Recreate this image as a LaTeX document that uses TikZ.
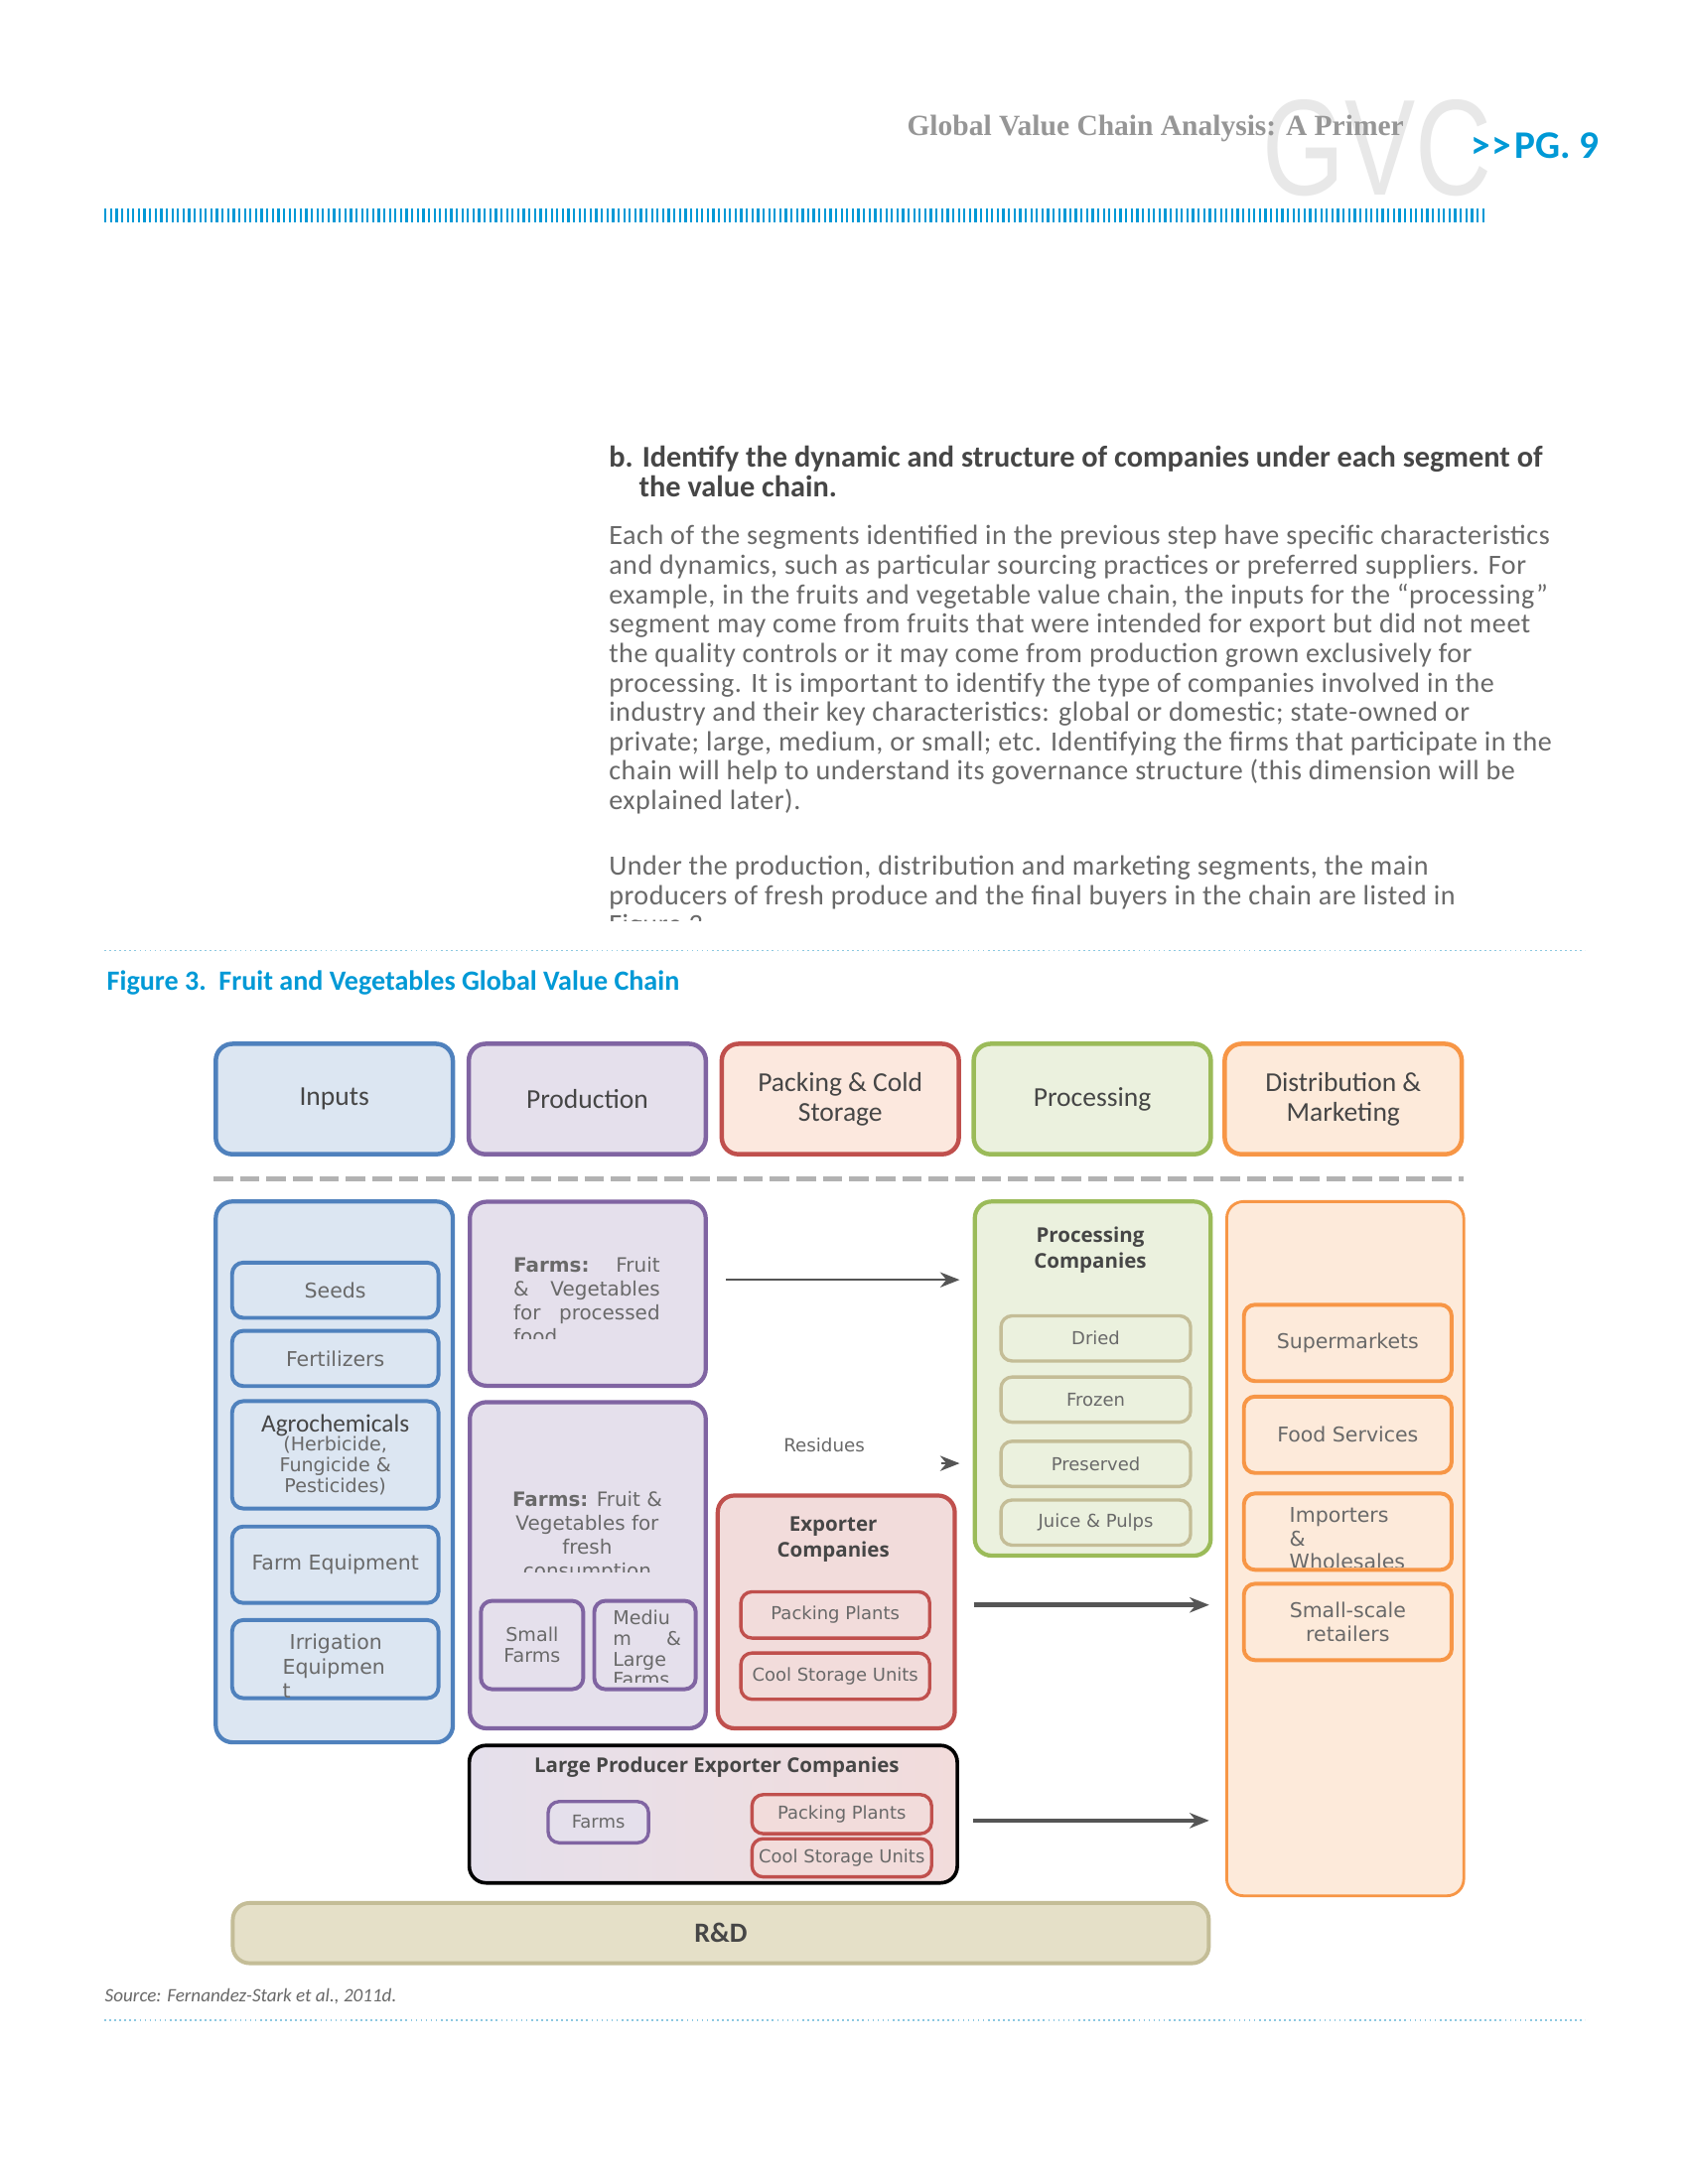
\documentclass[tikz,border=0pt]{standalone}
\usepackage{fontspec}
\usepackage{graphicx}
\setmainfont{Carlito}
\newfontfamily\labelfont{DejaVu Sans}
\newfontfamily\titlefont{Open Sans}
\newfontfamily\headserif{Liberation Serif}
\newfontfamily\gvcfont{Liberation Sans}
\usetikzlibrary{arrows.meta}

\definecolor{inBlue}{RGB}{79,129,189}
\definecolor{inBlueFill}{RGB}{220,230,242}
\definecolor{prPurple}{RGB}{128,100,162}
\definecolor{prPurpleFill}{RGB}{229,224,236}
\definecolor{pkRed}{RGB}{192,80,77}
\definecolor{pkRedFill}{RGB}{242,220,219}
\definecolor{pkPeach}{RGB}{252,232,222}
\definecolor{psGreen}{RGB}{155,187,89}
\definecolor{psGreenFill}{RGB}{235,241,222}
\definecolor{dmOrange}{RGB}{247,150,70}
\definecolor{dmOrangeFill}{RGB}{253,234,218}
\definecolor{oliveLine}{RGB}{196,189,151}
\definecolor{rdFill}{RGB}{229,224,200}
\definecolor{textGray}{RGB}{105,105,105}
\definecolor{darkText}{RGB}{70,70,70}
\definecolor{headGray}{RGB}{150,150,150}
\definecolor{gvcGray}{RGB}{232,232,232}
\definecolor{gvcBlue}{RGB}{0,153,214}
\definecolor{dotBlue}{RGB}{140,200,225}
\definecolor{arrowGray}{RGB}{85,85,85}

\tikzset{
  headbox/.style={draw, rounded corners=6pt, line width=1.6pt, minimum width=85pt, minimum height=39.6pt, align=center, text=darkText, font=\fontsize{9.8}{10.5}\selectfont},
  colbox/.style={draw, rounded corners=6pt, line width=1.5pt},
  itembox/.style={draw, rounded corners=4pt, line width=1.4pt, inner sep=2pt, align=center, text=textGray, font=\labelfont\fontsize{7.3}{8.3}\selectfont},
  smallitem/.style={itembox, line width=1.2pt, font=\labelfont\fontsize{6.4}{7.5}\selectfont},
  labeltext/.style={text=textGray, inner sep=0pt, font=\labelfont\fontsize{7.3}{8.5}\selectfont},
  boldtitle/.style={align=center, inner sep=0pt, text=darkText, font=\titlefont\bfseries\fontsize{7.3}{9.2}\selectfont},
  bodytext/.style={text=textGray, inner sep=0pt, font=\fontsize{10}{11}\selectfont\addfontfeatures{LetterSpace=2}},
  sepline/.style={dotBlue, line width=0.6pt, dash pattern=on 0.6pt off 1.2pt},
  flowarrow/.style={draw=arrowGray, line width=1.6pt, line cap=butt, -{Stealth[length=7pt,width=5.5pt]}},
  thinarrow/.style={draw=arrowGray, line width=0.5pt, -{Stealth[length=7pt,width=5.5pt]}},
}

\begin{document}
\begin{tikzpicture}[x=0.36pt, y=-0.36pt, line join=round]
\fill[white] (0,0) rectangle (1681.5,2176);
\useasboundingbox (0,0) rectangle (1681.5,2176);

% page header
\node[font=\gvcfont\fontsize{49}{49}\selectfont, text=gvcGray, anchor=base west, inner sep=0pt] (gvc) at (1257,194) {\scalebox{0.775}[1]{GVC}};
\node[font=\headserif\bfseries\fontsize{10.5}{12}\selectfont, text=headGray, anchor=base west, inner sep=0pt] (primer) at (903,135) {Global Value Chain Analysis: A Primer};
\node[font=\bfseries\fontsize{14}{16}\selectfont, text=gvcBlue, anchor=base west, inner sep=0pt] (pgno) at (1465,158) {\textgreater\kern0.6pt\textgreater\kern1pt PG. 9};
\draw[gvcBlue, line width=5pt, dash pattern=on 0.8pt off 1.2pt] (104,215) -- (1480,215);

% section text
\node[bodytext, font=\bfseries\fontsize{10.8}{12}\selectfont, text=darkText, anchor=base west] (headA) at (606,465) {b. Identify the dynamic and structure of companies under each segment of};
\node[bodytext, font=\bfseries\fontsize{10.8}{12}\selectfont, text=darkText, anchor=base west] (headB) at (636,495) {the value chain.};
\foreach \txt [count=\i from 0] in {{Each of the segments identified in the previous step have specific characteristics},
  {and dynamics, such as particular sourcing practices or preferred suppliers. For},
  {example, in the fruits and vegetable value chain, the inputs for the “processing”},
  {segment may come from fruits that were intended for export but did not meet},
  {the quality controls or it may come from production grown exclusively for},
  {processing. It is important to identify the type of companies involved in the},
  {industry and their key characteristics: global or domestic; state-owned or},
  {private; large, medium, or small; etc. Identifying the firms that participate in the},
  {chain will help to understand its governance structure (this dimension will be},
  {explained later).}}
  \node[bodytext, anchor=base west] (bodyA\i) at (606,{543+29.3*\i}) {\txt};
\foreach \txt [count=\i from 0] in {{Under the production, distribution and marketing segments, the main},
  {producers of fresh produce and the final buyers in the chain are listed in}}
  \node[bodytext, anchor=base west] (bodyB\i) at (606,{872+29.3*\i}) {\txt};
\begin{scope}
  \clip (600,895) rectangle (1000,917);
  \node[bodytext, anchor=base west] (bodyB2) at (606,930.6) {Figure 3.};
\end{scope}

% figure caption
\draw[sepline] (104,947) -- (1579,947);
\node[font=\bfseries\fontsize{10}{11}\selectfont, text=gvcBlue, anchor=base west, inner sep=0pt] (figcap) at (106,987) {Figure 3.\ \ Fruit and Vegetables Global Value Chain};

% segment headers
\node[headbox, draw=inBlue, fill=inBlueFill] (hInputs) at (333,1095) {Inputs};
\node[headbox, draw=prPurple, fill=prPurpleFill] (hProd) at (585,1095) {Production};
\node[headbox, draw=pkRed, fill=pkPeach] (hPack) at (837,1095) {Packing \& Cold\\Storage};
\node[headbox, draw=psGreen, fill=psGreenFill] (hProc) at (1088,1095) {Processing};
\node[headbox, draw=dmOrange, fill=dmOrangeFill] (hDist) at (1338,1095) {Distribution \&\\Marketing};
\draw[black!30, line width=1.8pt, dash pattern=on 7pt off 2.5pt] (hInputs.west |- 0,1175) -- (hDist.east |- 0,1175);

% inputs
\node[colbox, draw=inBlue, fill=inBlueFill, minimum width=85pt, minimum height=194pt] (inputs) at (333,1466.5) {};
\node[itembox, draw=inBlue, fill=inBlueFill, minimum width=74pt, minimum height=19.8pt] (seeds) at (334,1285.5) {Seeds};
\node[itembox, draw=inBlue, fill=inBlueFill, minimum width=74pt, minimum height=19.8pt] (fert) at (334,1353.5) {Fertilizers};
\node[itembox, draw=inBlue, fill=inBlueFill, minimum width=74pt, minimum height=38.5pt] (agro) at (334,1449.5) {};
\node[inner sep=0pt, text=darkText, font=\fontsize{9}{10}\selectfont] (agroA) at (334,1420) {Agrochemicals};
\node[labeltext, align=center, font=\labelfont\fontsize{6.8}{7.5}\selectfont] (agroB) at (334,1460) {(Herbicide,\\Fungicide \&\\Pesticides)};
\node[itembox, draw=inBlue, fill=inBlueFill, minimum width=74pt, minimum height=27.4pt] (farmeq) at (334,1559) {Farm Equipment};
\node[itembox, draw=inBlue, fill=inBlueFill, minimum width=74pt, minimum height=28pt] (irrig) at (334,1653) {};
\node[labeltext, anchor=base west] (irrigA) at (288,1643) {Irrigation};
\node[labeltext, anchor=base west] (irrigB) at (281,1668) {Equipmen};
\node[labeltext, anchor=base west] (irrigC) at (281,1692) {t};

% production
\node[colbox, draw=prPurple, fill=prPurpleFill, minimum width=84.6pt, minimum height=66pt] (prodtop) at (585.5,1289) {};
\begin{scope}
  \clip (500,1240) rectangle (690,1334);
  \foreach \txt [count=\i from 0] in {{\textbf{Farms:}\hfill Fruit}, {\&\hfill Vegetables}, {for\hfill processed}, {food}}
    \node[labeltext, font=\labelfont\fontsize{7.1}{8.5}\selectfont, anchor=base west] (procfarm\i) at (511,{1268+23.7*\i}) {\makebox[52.5pt][l]{\txt}};
\end{scope}
\node[colbox, draw=prPurple, fill=prPurpleFill, minimum width=84.6pt, minimum height=117pt] (prodfresh) at (585.5,1559.5) {};
\begin{scope}
  \clip (480,1470) rectangle (690,1566);
  \foreach \txt [count=\i from 0] in {{\textbf{Farms:} Fruit \&}, {Vegetables for}, {fresh}, {consumption}}
    \node[labeltext, font=\labelfont\fontsize{7.1}{8.5}\selectfont, anchor=base] (freshfarm\i) at (585,{1501+23.6*\i}) {\txt};
\end{scope}
\node[itembox, draw=prPurple, fill=prPurpleFill, minimum width=36.7pt, minimum height=31.7pt, font=\labelfont\fontsize{6.8}{7.5}\selectfont] (smallf) at (530,1639) {Small\\Farms};
\node[itembox, draw=prPurple, fill=prPurpleFill, minimum width=36.4pt, minimum height=31.7pt] (medf) at (642.5,1639) {};
\begin{scope}
  \clip (600,1600) rectangle (690,1676);
  \foreach \txt [count=\i from 0] in {{Mediu}, {m\hfill\&}, {Large}, {Farms}}
    \node[labeltext, font=\labelfont\fontsize{6.8}{7.5}\selectfont, anchor=base west] (medfarm\i) at (610,{1619+20.4*\i}) {\makebox[24.5pt][l]{\txt}};
\end{scope}

% packing & cold storage
\node[colbox, draw=pkRed, fill=pkRedFill, minimum width=85pt, minimum height=83.5pt] (exporter) at (833,1606) {};
\node[boldtitle] (exptitle) at (830,1534) {Exporter\\Companies};
\node[smallitem, draw=pkRed, fill=pkRedFill, minimum width=67.7pt, minimum height=16.6pt] (expack) at (832,1609) {Packing Plants};
\node[smallitem, draw=pkRed, fill=pkRedFill, minimum width=67.7pt, minimum height=16.6pt] (excool) at (832,1670) {Cool Storage Units};

% processing
\node[colbox, draw=psGreen, fill=psGreenFill, minimum width=84.6pt, minimum height=127pt] (proccomp) at (1088.5,1373.5) {};
\node[boldtitle] (proctitle) at (1086,1245.5) {Processing\\Companies};
\foreach \nm/\lbl/\yy in {dried/Dried/1333.5, frozen/Frozen/1394.5, preserved/Preserved/1458.5, juice/Juice \& Pulps/1517}
  \node[smallitem, draw=oliveLine, fill=psGreenFill, minimum width=68pt, minimum height=16.2pt] (\nm) at (1091.5,\yy) {\lbl};

% distribution & marketing
\node[colbox, draw=dmOrange, fill=dmOrangeFill, line width=1pt, minimum width=85pt, minimum height=249pt] (distrib) at (1340,1543) {};
\node[itembox, draw=dmOrange, fill=dmOrangeFill, minimum width=74.5pt, minimum height=27.4pt] (superm) at (1342.5,1338) {Supermarkets};
\node[itembox, draw=dmOrange, fill=dmOrangeFill, minimum width=74.5pt, minimum height=27.4pt] (foodserv) at (1342.5,1429.5) {Food Services};
\node[itembox, draw=dmOrange, fill=dmOrangeFill, minimum width=74.5pt, minimum height=27.4pt] (importers) at (1342.5,1526) {};
\begin{scope}
  \clip (1250,1495) rectangle (1440,1561);
  \foreach \txt [count=\i from 0] in {Importers, \&, Wholesales}
    \node[labeltext, anchor=base west] (imp\i) at (1284,{1517+23*\i}) {\txt};
\end{scope}
\node[itembox, draw=dmOrange, fill=dmOrangeFill, minimum width=74.5pt, minimum height=27.4pt] (smallscale) at (1342.5,1616) {Small-scale\\retailers};

% flows
\node[labeltext, font=\labelfont\fontsize{6.5}{7.5}\selectfont] (residues) at (821,1440) {Residues};
\coordinate (a1s) at ([shift={(6.5pt,5pt)}]prodtop.east);
\draw[thinarrow] (a1s) -- ([xshift=-4.7pt]proccomp.west |- a1s);
\coordinate (ress) at (938,1458);
\draw[thinarrow] (ress) -- ([xshift=-4.7pt]proccomp.west |- ress);
\coordinate (a2s) at ([shift={(6pt,2.5pt)}]exporter.east);
\draw[flowarrow] (a2s) -- ([xshift=-5.8pt]distrib.west |- a2s);

% large producers
\node[colbox, draw=black, line width=1.3pt, left color=prPurpleFill, right color=pkRedFill, minimum width=175pt, minimum height=49.3pt] (largeprod) at (710.5,1807.5) {};
\node[boldtitle] (largetitle) at (714,1761) {Large Producer Exporter Companies};
\node[smallitem, draw=prPurple, fill=prPurpleFill, minimum width=36pt, minimum height=14.8pt] (lfarms) at (596,1815.5) {Farms};
\node[smallitem, draw=pkRed, fill=pkRedFill, minimum width=64.4pt, minimum height=14pt] (lpack) at (838.5,1807.5) {Packing Plants};
\node[smallitem, draw=pkRed, fill=pkRedFill, minimum width=64.4pt, minimum height=13.7pt] (lcool) at (838.5,1851) {Cool Storage Units};
\coordinate (a3s) at ([shift={(5pt,-2.3pt)}]largeprod.east);
\draw[flowarrow] (a3s) -- ([xshift=-5.8pt]distrib.west |- a3s);

% research
\node[colbox, draw=oliveLine, fill=rdFill, line width=1.4pt, minimum width=350pt, minimum height=21.6pt, text=darkText, font=\bfseries\fontsize{10}{12}\selectfont] (rnd) at (718,1926) {R\&D};

% source
\node[font=\itshape\fontsize{6.8}{8}\selectfont, text=textGray, anchor=base west, inner sep=0pt] (source) at (104,1994) {Source: Fernandez-Stark et al., 2011d.};
\draw[sepline] (104,2013) -- (1579,2013);
\end{tikzpicture}
\end{document}
